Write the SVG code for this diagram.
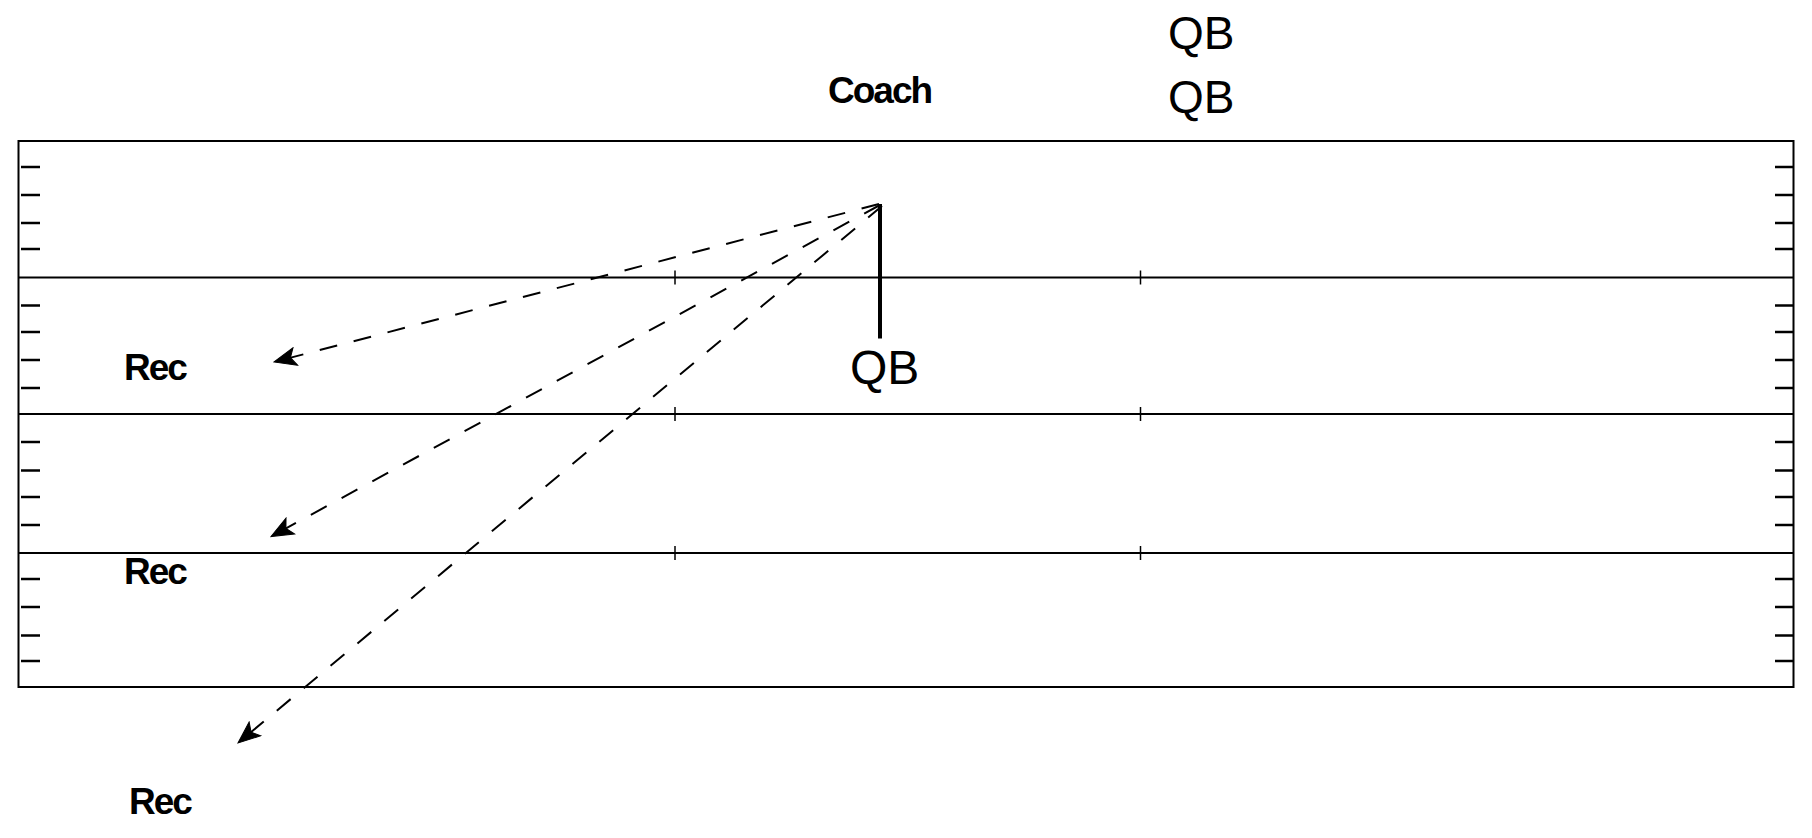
<svg xmlns="http://www.w3.org/2000/svg" width="1812" height="838" viewBox="0 0 1812 838">
<style>
.bg{fill:#ffffff}
.field{fill:none;stroke:#000;stroke-width:2}
.yard{stroke:#000;stroke-width:2}
.tick{stroke:#000;stroke-width:2.5}
.htick{stroke:#000;stroke-width:1.5}
.qbline{stroke:#000;stroke-width:4}
.route{fill:none;stroke:#000;stroke-width:2;stroke-dasharray:18 17}
.lbl{font-family:"Liberation Sans",Arial,sans-serif;fill:#000}
.bold{font-weight:bold;font-size:37px;letter-spacing:-2px}
.big{font-size:46px}
</style>
<defs>
<marker id="ah" viewBox="-1 -1 24 20" refX="22" refY="9" markerWidth="24" markerHeight="20" markerUnits="userSpaceOnUse" orient="auto">
<path d="M0,0 L22,9 L0,18 L5,9 Z" fill="#000" stroke="#000" stroke-width="1" stroke-linejoin="miter"/>
</marker>
</defs>
<rect class="bg" x="0" y="0" width="1812" height="838"/>
<g id="field">
<rect class="field" x="18.5" y="141" width="1775" height="546"/>
<line class="yard" x1="18.5" y1="277.5" x2="1793.5" y2="277.5"/>
<line class="yard" x1="18.5" y1="414" x2="1793.5" y2="414"/>
<line class="yard" x1="18.5" y1="553" x2="1793.5" y2="553"/>
<g id="hashes">
<line class="htick" x1="675" y1="270.5" x2="675" y2="284.5"/>
<line class="htick" x1="1140.5" y1="270.5" x2="1140.5" y2="284.5"/>
<line class="htick" x1="675" y1="407" x2="675" y2="421"/>
<line class="htick" x1="1140.5" y1="407" x2="1140.5" y2="421"/>
<line class="htick" x1="675" y1="546" x2="675" y2="560"/>
<line class="htick" x1="1140.5" y1="546" x2="1140.5" y2="560"/>
</g>
<g id="left-ticks">
<line class="tick" x1="21" y1="167" x2="40" y2="167"/>
<line class="tick" x1="21" y1="195" x2="40" y2="195"/>
<line class="tick" x1="21" y1="223" x2="40" y2="223"/>
<line class="tick" x1="21" y1="249" x2="40" y2="249"/>
<line class="tick" x1="21" y1="305.5" x2="40" y2="305.5"/>
<line class="tick" x1="21" y1="332" x2="40" y2="332"/>
<line class="tick" x1="21" y1="360" x2="40" y2="360"/>
<line class="tick" x1="21" y1="388" x2="40" y2="388"/>
<line class="tick" x1="21" y1="442" x2="40" y2="442"/>
<line class="tick" x1="21" y1="470.5" x2="40" y2="470.5"/>
<line class="tick" x1="21" y1="497" x2="40" y2="497"/>
<line class="tick" x1="21" y1="525" x2="40" y2="525"/>
<line class="tick" x1="21" y1="579" x2="40" y2="579"/>
<line class="tick" x1="21" y1="607" x2="40" y2="607"/>
<line class="tick" x1="21" y1="635.5" x2="40" y2="635.5"/>
<line class="tick" x1="21" y1="661" x2="40" y2="661"/>
</g>
<g id="right-ticks">
<line class="tick" x1="1775" y1="167" x2="1793" y2="167"/>
<line class="tick" x1="1775" y1="195" x2="1793" y2="195"/>
<line class="tick" x1="1775" y1="223" x2="1793" y2="223"/>
<line class="tick" x1="1775" y1="249" x2="1793" y2="249"/>
<line class="tick" x1="1775" y1="305.5" x2="1793" y2="305.5"/>
<line class="tick" x1="1775" y1="332" x2="1793" y2="332"/>
<line class="tick" x1="1775" y1="360" x2="1793" y2="360"/>
<line class="tick" x1="1775" y1="388" x2="1793" y2="388"/>
<line class="tick" x1="1775" y1="442" x2="1793" y2="442"/>
<line class="tick" x1="1775" y1="470.5" x2="1793" y2="470.5"/>
<line class="tick" x1="1775" y1="497" x2="1793" y2="497"/>
<line class="tick" x1="1775" y1="525" x2="1793" y2="525"/>
<line class="tick" x1="1775" y1="579" x2="1793" y2="579"/>
<line class="tick" x1="1775" y1="607" x2="1793" y2="607"/>
<line class="tick" x1="1775" y1="635.5" x2="1793" y2="635.5"/>
<line class="tick" x1="1775" y1="661" x2="1793" y2="661"/>
</g>
</g>
<g id="connectors">
<line class="qbline" x1="880" y1="204" x2="880" y2="338.5"/>
<line class="route" x1="879" y1="204" x2="274" y2="362" marker-end="url(#ah)"/>
<line class="route" x1="880" y1="205" x2="271" y2="536.5" marker-end="url(#ah)"/>
<line class="route" x1="882" y1="206" x2="238" y2="743" marker-end="url(#ah)"/>
</g>
<g id="coach"><text class="lbl bold" x="828" y="103">Coach</text></g>
<g id="qb-top-1"><text class="lbl big" x="1168" y="49">QB</text></g>
<g id="qb-top-2"><text class="lbl big" x="1168" y="113">QB</text></g>
<g id="qb"><text class="lbl" font-size="48" x="850" y="384">QB</text></g>
<g id="rec-1"><text class="lbl bold" x="124" y="380">Rec</text></g>
<g id="rec-2"><text class="lbl bold" x="124" y="584">Rec</text></g>
<g id="rec-3"><text class="lbl bold" x="129" y="814">Rec</text></g>
</svg>
